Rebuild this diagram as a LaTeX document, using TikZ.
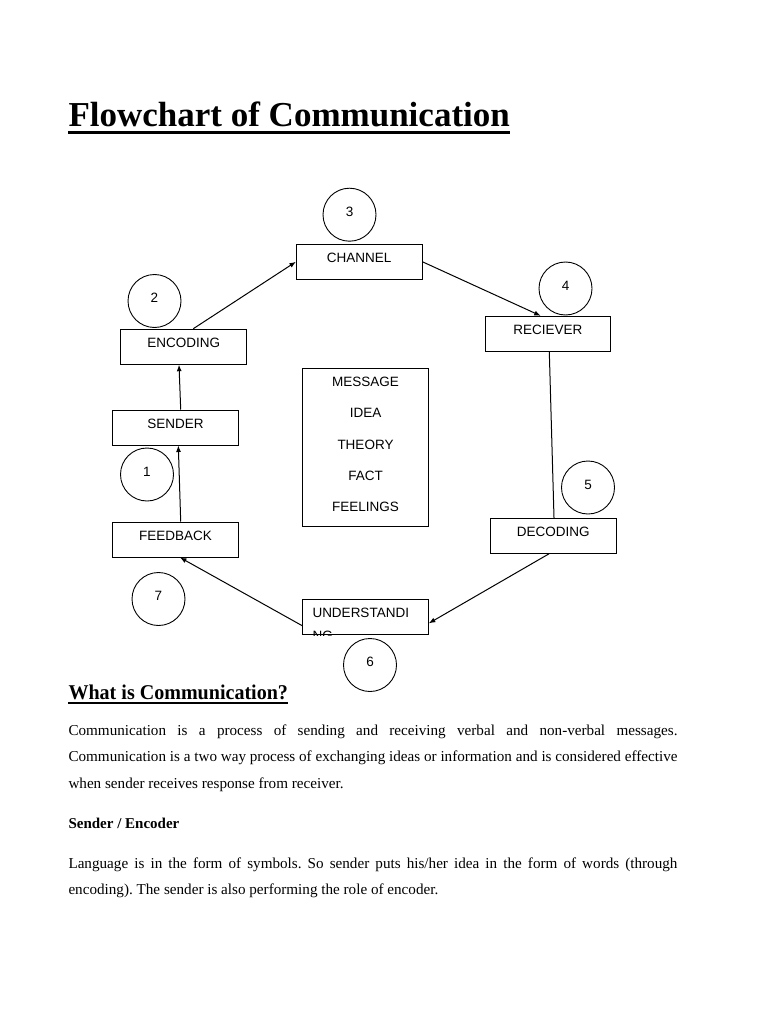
\documentclass[tikz,border=0pt]{standalone}
\usepackage{fontspec}
\usepackage{graphicx}
\setmainfont{Liberation Serif}
\setsansfont{Liberation Sans}
\usetikzlibrary{arrows.meta,calc}
\frenchspacing

\tikzset{
	stage/.style = {draw, line width = 1pt, minimum width = 125.6pt, minimum height = 35pt, inner sep = 0pt,
		font = \sffamily\fontsize{13.5pt}{16pt}\selectfont, text height = 9.7pt, text depth = 8pt},
	numring/.style = {draw, circle, line width = 0.9pt, minimum size = 53pt, inner sep = 0pt,
		font = \sffamily\fontsize{13.5pt}{16pt}\selectfont, text height = 9.7pt, text depth = 6pt},
	flow/.style = {line width = 1pt, -{Latex[length = 6.5pt, width = 5pt]}},
	bodytext/.style = {anchor = base west, inner sep = 0pt, font = \fontsize{15.15pt}{18pt}\selectfont},
	stagetext/.style = {inner sep = 0pt, font = \sffamily\fontsize{13.5pt}{16pt}\selectfont}
}

\begin{document}
\begin{tikzpicture}[x = 1pt, y = -1pt]
	\useasboundingbox (0, 0) rectangle (768, 1024);
	\fill[white] (0, 0) rectangle (768, 1024);

	\node[anchor = base west, inner sep = 0pt, font = \bfseries\fontsize{35pt}{40pt}\selectfont] (title) at (68.3, 126.7) {Flowchart of Communication};
	\draw[line width = 3.2pt] ($(title.base west) + (0, 5.6)$) -- ($(title.base east) + (0, 5.6)$);

	\node[stage] (channel) at (359.2, 261.8) {CHANNEL};
	\node[stage] (encoding) at (183.7, 346.7) {ENCODING};
	\node[stage] (reciever) at (547.8, 333.8) {RECIEVER};
	\node[stage] (sender) at (175.5, 427.5) {SENDER};
	\node[stage] (feedback) at (175.5, 539.5) {FEEDBACK};
	\node[stage] (decoding) at (553.2, 535.8) {DECODING};
	\node[stage] (understanding) at (365.5, 617.2) {};
	\begin{scope}
		\clip (understanding.south west) rectangle (understanding.north east);
		\node[stagetext, anchor = base west] (under1) at (312.3, 617) {UNDERSTANDI};
		\node[stagetext, anchor = base west] (under2) at (312.3, 640.4) {NG};
	\end{scope}

	\node[stage, minimum height = 158.4pt] (message) at (365.5, 447.5) {};
	\foreach \w [count = \i] in {MESSAGE, IDEA, THEORY, FACT, FEELINGS} {
		\node[stagetext, anchor = base] (idea\i) at (365.5, 355.3 + 31.3 * \i) {\w};
	}

	\node[numring] (ring1) at (147, 474.5) {1};
	\node[numring] (ring2) at (154.5, 301) {2};
	\node[numring] (ring3) at (349.5, 214.7) {3};
	\node[numring] (ring4) at (565.5, 288.5) {4};
	\node[numring] (ring5) at (588, 487.5) {5};
	\node[numring] (ring6) at (370, 665) {6};
	\node[numring] (ring7) at (158.5, 599) {7};

	\draw[flow] ($(feedback.north) + (5.2, 0)$) -- ($(sender.south) + (2.8, 0)$);
	\draw[flow] ($(sender.north) + (5.2, 0)$) -- ($(encoding.south) + (-4.7, 0)$);
	\draw[flow] ($(encoding.north) + (9.6, 0)$) -- (channel.west);
	\draw[flow] (channel.east) -- ($(reciever.north) + (-7.1, 0)$);
	\draw[line width = 1pt] ($(reciever.south) + (1.5, 0)$) -- ($(decoding.north) + (0.8, 0)$);
	\draw[flow] ($(decoding.south) + (-4.2, 0)$) -- ($(understanding.east) + (0, 6.1)$);
	\draw[flow] ($(understanding.west) + (0, 8.5)$) -- ($(feedback.south) + (4.5, 0)$);

	\node[anchor = base west, inner sep = 0pt, font = \bfseries\fontsize{21pt}{24pt}\selectfont] (whathead) at (68.3, 699.3) {\scalebox{0.955}[1]{What is Communication?}};
	\draw[line width = 1.7pt] ($(whathead.base west) + (0, 3.9)$) -- ($(whathead.base east) + (0, 3.9)$);

	\node[bodytext] (para1) at (68.3, 735) {\makebox[609pt][s]{Communication is a process of sending and receiving verbal and non-verbal messages.}};
	\node[bodytext] (para2) at (68.3, 761.7) {\makebox[609pt][s]{Communication is a two way process of exchanging ideas or information and is considered effective}};
	\node[bodytext] (para3) at (68.3, 788.3) {when sender receives response from receiver.};
	\node[bodytext, font = \bfseries\fontsize{15pt}{18pt}\selectfont] (sendhead) at (68.3, 828.3) {Sender / Encoder};
	\node[bodytext] (para4) at (68.3, 868.3) {\makebox[609pt][s]{Language is in the form of symbols. So sender puts his/her idea in the form of words (through}};
	\node[bodytext] (para5) at (68.3, 894) {encoding). The sender is also performing the role of encoder.};
\end{tikzpicture}
\end{document}
